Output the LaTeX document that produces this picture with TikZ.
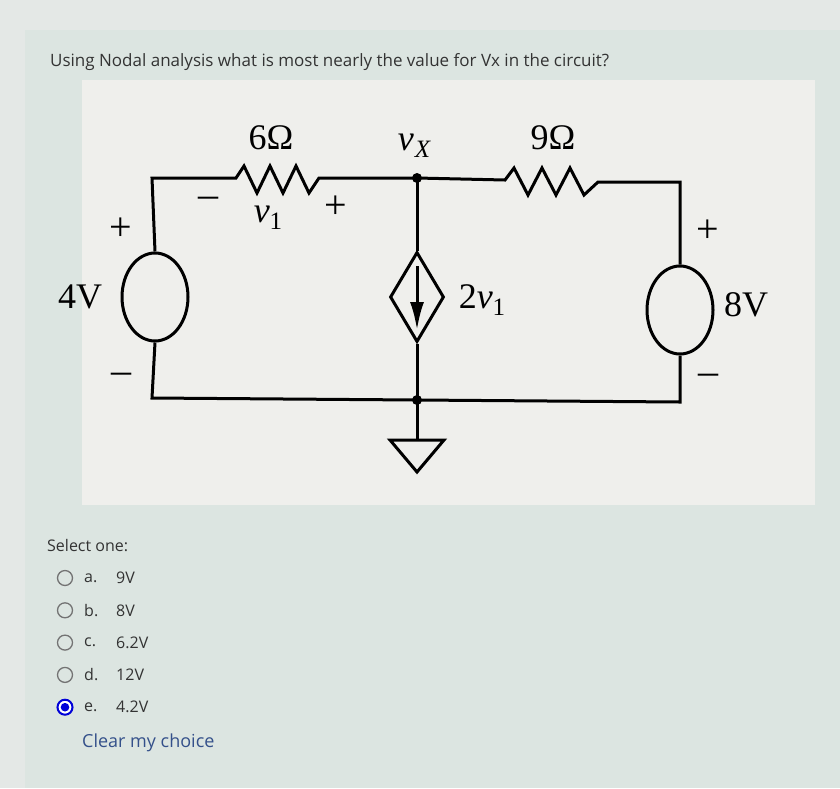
\documentclass[tikz,border=0pt]{standalone}
\usepackage{fontspec}
\setmainfont{Open Sans}
\newfontfamily\ckt{Liberation Serif}
\usetikzlibrary{shapes.geometric,arrows.meta}
\definecolor{pagebg}{HTML}{E4E8E6}
\definecolor{panelbg}{HTML}{DCE5E1}
\definecolor{imgbg}{HTML}{EFEFEC}
\definecolor{linkc}{HTML}{34508A}
\newcommand\subsz{\fontsize{25}{25}\selectfont}
\begin{document}
\begin{tikzpicture}[x=1pt,y=-1pt,
  w/.style={line width=3pt,line join=miter},
  lbl/.style={font=\ckt\fontsize{36}{36}\selectfont,inner sep=0},
  sgn/.style={font=\ckt\fontsize{40}{40}\selectfont,inner sep=0},
  ui/.style={font=\fontsize{16}{16}\selectfont,text=black!80,anchor=west,inner sep=0},
  radio/.style={circle,draw=black!55,line width=1.3pt,minimum size=15pt,inner sep=0}]
\fill[pagebg] (0,0) rectangle (840,788);
\fill[panelbg] (25,30) rectangle (840,788);
\fill[imgbg] (82,80) rectangle (815,505);
\useasboundingbox (0,0) rectangle (840,788);
\node[ui,font=\fontsize{17}{17}\selectfont] (title) at (50,62) {Using Nodal analysis what is most nearly the value for Vx in the circuit?};
% nodes
\coordinate (tl) at (152,178); \coordinate (vx) at (417,178); \coordinate (tr) at (680,182);
\coordinate (bl) at (152,398); \coordinate (bm) at (417,400); \coordinate (br) at (680,402);
\node[ellipse,draw,w,minimum width=66pt,minimum height=88pt,inner sep=0] (s1) at (155,297) {};
\node[ellipse,draw,w,minimum width=66pt,minimum height=88pt,inner sep=0] (s2) at (680,310) {};
\node[diamond,draw,w,minimum width=54pt,minimum height=90pt,inner sep=0] (cs) at (417,297) {};
\coordinate (r1a) at (236,178);
\coordinate (r2a) at (505,180);
\draw[w] (s1.north) -- (tl) -- (r1a) -- ++(8,-12) -- ++(13,27) -- ++(13,-27) -- ++(13,27) -- ++(13,-27) -- ++(13,27) -- ++(10,-15) -- (vx) -- (r2a) -- ++(9,-12) -- ++(14,27) -- ++(14,-27) -- ++(14,27) -- ++(14,-27) -- ++(14,27) -- ++(14,-13) -- (tr) -- (s2.north);
\draw[w] (s1.south) -- (bl) -- (bm) -- (br) -- (s2.south);
\draw[w] (vx) -- (cs.north); \draw[w] (cs.south) -- (bm);
\draw[w] (bm) -- (417,440) coordinate (g);
\draw[w] (390,440) -- (444,440) -- (417,472) -- cycle;
\draw[line width=3pt,-{Latex[length=28pt,width=14pt]}] (417,266) -- (417,330);
\fill (vx) circle (5pt); \fill (bm) circle (5pt);
\node[lbl] (l6) at (271,138) {6Ω};
\node[lbl] (lvx) at (414,146) {\itshape v\kern1pt\raisebox{-7pt}{\subsz X}};
\node[lbl] (l9) at (553,138) {9Ω};
\node[sgn] (m1) at (208,202) {–};
\node[lbl] (lv1) at (268,218) {\itshape v\raisebox{-7pt}{\upshape\subsz 1}};
\node[sgn] (p1) at (336,207) {+};
\node[sgn] (p2) at (121,229) {+};
\node[sgn] (m2) at (121,378) {–};
\node[lbl] (l4) at (80,297) {4V};
\node[lbl] (l2v) at (482,300) {2\itshape v\raisebox{-7pt}{\upshape\subsz 1}};
\node[sgn] (p3) at (708,231) {+};
\node[sgn] (m3) at (708,379) {–};
\node[lbl] (l8) at (746,305) {8V};
% options
\node[ui] (sel) at (47,546) {Select one:};
\foreach \i/\l/\v in {0/a./9V,1/b./8V,2/c./6.2V,3/d./12V,4/e./4.2V}{
  \node[radio] (r\i) at (65,{578+32.3*\i}) {};
  \node[ui,font=\fontsize{16}{16}\selectfont] (k\i) at (84,{578+32.3*\i}) {\l};
  \node[ui,font=\fontsize{16}{16}\selectfont] (v\i) at (116,{578+32.3*\i}) {\v};
}
\draw[line width=2pt,draw=blue!85!black,fill=white] (r4) circle (7.5pt);
\fill[blue!85!black] (r4) circle (4.3pt);
\node[ui,text=linkc,font=\fontsize{18}{18}\selectfont] (clr) at (82,743) {Clear my choice};
\end{tikzpicture}
\end{document}
